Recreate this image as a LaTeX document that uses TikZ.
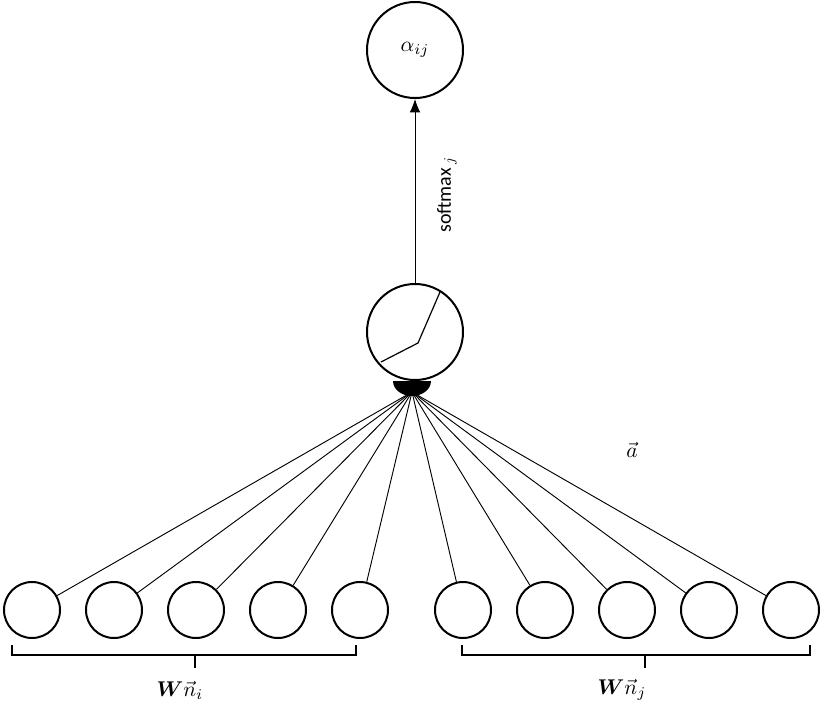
\documentclass[tikz,border=0pt]{standalone}
\usepackage{fontspec}
\usepackage{amsmath}
\usetikzlibrary{arrows.meta}
\newfontfamily\carl{Carlito}
\begin{document}
\begin{tikzpicture}[x=0.75pt,y=-0.75pt,
  neuron/.style={circle,draw,line width=1.5pt,minimum size=56*0.75pt,inner sep=0pt},
  big/.style={circle,draw,line width=1.5pt,minimum size=96*0.75pt,inner sep=0pt},
  conn/.style={line width=0.7pt},
  brace/.style={line width=0.9pt},
  lbl/.style={scale=1.6}]
\useasboundingbox (0,0) rectangle (825,707);
\node[big] (alpha) at (415,50) {};
\node[lbl] (alphat) at (415,50) {$\alpha_{ij}$};
\node[big] (act) at (415,332) {};
\draw[line width=0.9pt] (381,362) -- (418,343) -- (440,292);
\fill (393,381) arc[start angle=180,end angle=360,x radius=19,y radius=-15] -- cycle;
\coordinate (hub) at (412,392);
\draw[conn,-{Latex[length=10pt,width=8pt]}] (act.north) -- (alpha.south);
\node[rotate=90,font=\carl\fontsize{15}{17}\selectfont] (sm) at (447,195) {softmax\,$_j$};
\foreach \i/\x in {1/32,2/114,3/196,4/278,5/360,6/463,7/545,8/627,9/709,10/791}{
  \node[neuron] (n\i) at (\x,610) {};
  \draw[conn] (hub) -- (n\i);
}
\draw[brace] (12,645) -- (12,655) -- (356,655) -- (356,645);
\draw[brace] (195,655) -- (195,668);
\draw[brace] (462,645) -- (462,655) -- (810,655) -- (810,645);
\draw[brace] (645,655) -- (645,668);
\node[lbl] (wi) at (180,690) {$\boldsymbol{W}\vec{n}_i$};
\node[lbl] (wj) at (622,690) {$\boldsymbol{W}\vec{n}_j$};
\node[lbl] (a) at (632,450) {$\vec{a}$};
\end{tikzpicture}
\end{document}
